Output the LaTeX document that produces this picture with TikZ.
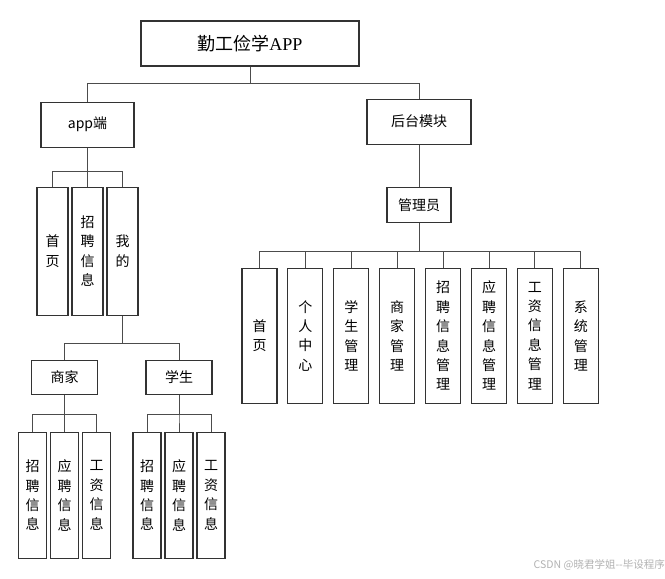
\documentclass[tikz,border=0pt]{standalone}
\usepackage{fontspec}
\setmainfont{Noto Sans CJK SC}
\newfontfamily\titlefont{Liberation Serif}
\usetikzlibrary{calc,positioning}

\begin{document}
\begin{tikzpicture}[x=1pt, y=1pt, align=center, inner sep=0pt,
    box/.style={draw=black!80, line width=1.1pt, fill=white, font=\fontsize{14}{19.4}\selectfont},
    leaf/.style={box, minimum width=31pt, minimum height=128pt},
    subleaf/.style={box, minimum width=28pt, minimum height=126pt},
    admleaf/.style={box, minimum width=35pt, minimum height=135pt},
    link/.style={draw=black!70, line width=0.9pt}]
    \useasboundingbox[fill=white] (0,0) rectangle (665,-579);

    \node [box, minimum width=218pt, minimum height=45pt, font=\fontsize{18}{22}\selectfont] (app_root) at (250,-43.5) {勤工俭学{\titlefont APP}};

    \node [box, below=35pt of app_root, xshift=-162.5pt, minimum width=93pt, minimum height=45pt] (client) {app端};
    \node [box, below=32pt of app_root, xshift=169pt, minimum width=104pt, minimum height=45pt] (backend) {后台模块};

    % app side
    \node [leaf, below=39pt of client] (recruit) {招\\聘\\信\\息};
    \node [leaf, left=2.9pt of recruit] (home) {首\\页};
    \node [leaf, right=2.9pt of recruit] (mine) {我\\的};

    \node [box, below=44pt of mine, xshift=-58pt, minimum width=66pt, minimum height=34pt] (merchant) {商家};
    \node [box, below=44pt of mine, xshift=56.5pt, minimum width=66pt, minimum height=34pt] (student) {学生};

    \node [subleaf, below=37pt of merchant] (m_apply) {应\\聘\\信\\息};
    \node [subleaf, left=2.9pt of m_apply] (m_recruit) {招\\聘\\信\\息};
    \node [subleaf, right=2.9pt of m_apply] (m_salary) {工\\资\\信\\息};

    \node [subleaf, below=37pt of student] (s_apply) {应\\聘\\信\\息};
    \node [subleaf, left=2.9pt of s_apply] (s_recruit) {招\\聘\\信\\息};
    \node [subleaf, right=2.9pt of s_apply] (s_salary) {工\\资\\信\\息};

    % admin side
    \node [box, below=42pt of backend, minimum width=64pt, minimum height=35pt] (admin) {管理员};

    \node [admleaf, below=45pt of admin, xshift=-159.5pt] (adm_home) {首\\页};
    \node [admleaf, right=9.8pt of adm_home] (adm_center) {个\\人\\中\\心};
    \node [admleaf, right=9.8pt of adm_center] (adm_student) {学\\生\\管\\理};
    \node [admleaf, right=9.8pt of adm_student] (adm_merchant) {商\\家\\管\\理};
    \node [admleaf, right=9.8pt of adm_merchant] (adm_recruit) {招\\聘\\信\\息\\管\\理};
    \node [admleaf, right=9.8pt of adm_recruit] (adm_apply) {应\\聘\\信\\息\\管\\理};
    \node [admleaf, right=9.8pt of adm_apply] (adm_salary) {工\\资\\信\\息\\管\\理};
    \node [admleaf, right=9.8pt of adm_salary] (adm_system) {系\\统\\管\\理};

    \draw [link] (app_root.south) -- ++(0,-17) -| (client.north);
    \draw [link] (app_root.south) -- ++(0,-17) -| (backend.north);

    \foreach \n in {home, recruit, mine}
        \draw [link] (client.south) -- ++(0,-24) -| (\n.north);
    \foreach \n in {merchant, student}
        \draw [link] (mine.south) -- ++(0,-28) -| (\n.north);
    \foreach \n in {m_recruit, m_apply, m_salary}
        \draw [link] (merchant.south) -- ++(0,-20) -| (\n.north);
    \foreach \n in {s_recruit, s_apply, s_salary}
        \draw [link] (student.south) -- ++(0,-20) -| (\n.north);

    \draw [link] (backend) -- (admin);
    \foreach \n in {adm_home, adm_center, adm_student, adm_merchant, adm_recruit, adm_apply, adm_salary, adm_system}
        \draw [link] (admin.south) -- ++(0,-29) -| (\n.north);

    \node [anchor=east, text=black!30, font=\fontsize{10.5}{12}\selectfont] (watermark) at (665,-565) {CSDN @晓君学姐-{}-毕设程序};
\end{tikzpicture}
\end{document}
